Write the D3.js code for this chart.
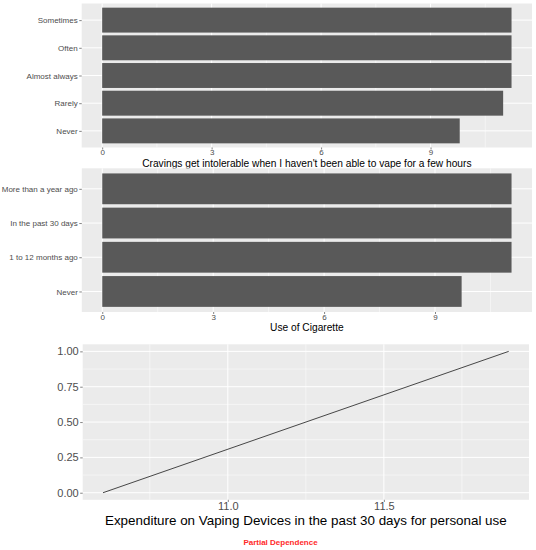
<!DOCTYPE html>
<html>
<head>
<meta charset="utf-8">
<script src="https://cdn.jsdelivr.net/npm/d3@7"></script>
<style>
  html, body { margin: 0; padding: 0; background: #ffffff; }
  svg { display: block; font-family: "Liberation Sans", Arial, Helvetica, sans-serif; }
</style>
</head>
<body>
<svg id="chart" width="536" height="550"></svg>
<script>
// ---- data ----
const cravingCategories = ["Sometimes", "Often", "Almost always", "Rarely", "Never"];
const cravingValues     = [11.22, 11.22, 11.22, 10.99, 9.80];
const cravingTitle      = "Cravings get intolerable when I haven't been able to vape for a few hours";

const cigaretteCategories = ["More than a year ago", "In the past 30 days", "1 to 12 months ago", "Never"];
const cigaretteValues     = [11.07, 11.07, 11.07, 9.72];
const cigaretteTitle      = "Use of Cigarette";

const barTicks = [0, 3, 6, 9];

const expenditureX      = [10.60, 11.90];
const partialDependence = [0.00, 1.00];
const pdXTicks = [11.0, 11.5];
const pdYTicks = [0.00, 0.25, 0.50, 0.75, 1.00];
const pdTitle  = "Expenditure on Vaping Devices in the past 30 days for personal use";
const caption  = "Partial Dependence";

// ---- drawing ----
const svg = d3.select("#chart");
const BG = "#ebebeb", BAR = "#595959", TXT = "#4d4d4d", TICK = "#333333";

function barPanel(cats, vals, title, box) {
  const g = svg.append("g");
  const maxV = d3.max(vals);
  const x = d3.scaleLinear().domain([-0.05 * maxV, maxV * 1.05]).range([box.x0, box.x1]);
  const y = d3.scalePoint().domain(cats).range([box.y0, box.y1]).padding(0.6);
  const bh = y.step() * 0.9;

  g.append("rect").attr("x", box.x0).attr("y", box.y0)
    .attr("width", box.x1 - box.x0).attr("height", box.y1 - box.y0).attr("fill", BG);

  const minor = barTicks.map(t => t + 1.5).filter(t => t < x.domain()[1]);
  g.selectAll(".mx").data(minor).join("line")
    .attr("x1", d => x(d)).attr("x2", d => x(d)).attr("y1", box.y0).attr("y2", box.y1)
    .attr("stroke", "#fff").attr("stroke-width", 0.5);
  g.selectAll(".Mx").data(barTicks).join("line")
    .attr("x1", d => x(d)).attr("x2", d => x(d)).attr("y1", box.y0).attr("y2", box.y1)
    .attr("stroke", "#fff").attr("stroke-width", 1);
  g.selectAll(".My").data(cats).join("line")
    .attr("x1", box.x0).attr("x2", box.x1).attr("y1", d => y(d)).attr("y2", d => y(d))
    .attr("stroke", "#fff").attr("stroke-width", 1);

  g.selectAll(".bar").data(cats).join("rect")
    .attr("x", x(0)).attr("y", d => y(d) - bh / 2)
    .attr("width", (d, i) => x(vals[i]) - x(0)).attr("height", bh)
    .attr("fill", BAR);

  const ya = d3.axisLeft(y).tickSize(2.5).tickPadding(1.5);
  const gy = g.append("g").attr("transform", `translate(${box.x0},0)`).call(ya);
  gy.select(".domain").remove();
  gy.selectAll(".tick line").attr("stroke", TICK).attr("stroke-width", 0.6);
  gy.selectAll(".tick text").attr("fill", TXT).style("font-size", "8px");

  const xa = d3.axisBottom(x).tickValues(barTicks).tickSize(2).tickFormat(d3.format("d"));
  const gx = g.append("g").attr("transform", `translate(0,${box.y1})`).call(xa);
  gx.select(".domain").remove();
  gx.selectAll(".tick line").attr("stroke", TICK).attr("stroke-width", 0.6);
  gx.selectAll(".tick text").attr("fill", TXT).style("font-size", "8px")
    .attr("y", box.tickLabelOffset).attr("dy", "0.35em");

  g.append("text").attr("x", (box.x0 + box.x1) / 2).attr("y", box.titleY)
    .attr("text-anchor", "middle").attr("dy", "0.35em")
    .style("font-size", "10.2px").attr("fill", "#000").text(title);
}

barPanel(cravingCategories, cravingValues, cravingTitle,
  { x0: 81.7, x1: 532, y0: 3.5, y1: 147.5, titleY: 163.4, tickLabelOffset: 5.0 });
barPanel(cigaretteCategories, cigaretteValues, cigaretteTitle,
  { x0: 81.8, x1: 532, y0: 168.3, y1: 312, titleY: 327.9, tickLabelOffset: 5.2 });

// ---- partial dependence panel ----
(function () {
  const box = { x0: 82.7, x1: 529, y0: 344.3, y1: 499.8 };
  const g = svg.append("g");
  const xr = d3.extent(expenditureX), pad = (xr[1] - xr[0]) * 0.05;
  const x = d3.scaleLinear().domain([xr[0] - pad, xr[1] + pad]).range([box.x0, box.x1]);
  const yr = d3.extent(partialDependence), ypad = (yr[1] - yr[0]) * 0.05;
  const y = d3.scaleLinear().domain([yr[0] - ypad, yr[1] + ypad]).range([box.y1, box.y0]);

  g.append("rect").attr("x", box.x0).attr("y", box.y0)
    .attr("width", box.x1 - box.x0).attr("height", box.y1 - box.y0).attr("fill", BG);

  const xStep = pdXTicks[1] - pdXTicks[0];
  const xMinor = [pdXTicks[0] - xStep / 2, pdXTicks[0] + xStep / 2, pdXTicks[1] + xStep / 2]
    .filter(v => v > x.domain()[0] && v < x.domain()[1]);
  const yStep = pdYTicks[1] - pdYTicks[0];
  const yMinor = pdYTicks.slice(0, -1).map(v => v + yStep / 2);

  g.selectAll(".mx").data(xMinor).join("line")
    .attr("x1", d => x(d)).attr("x2", d => x(d)).attr("y1", box.y0).attr("y2", box.y1)
    .attr("stroke", "#fff").attr("stroke-width", 0.5);
  g.selectAll(".my").data(yMinor).join("line")
    .attr("x1", box.x0).attr("x2", box.x1).attr("y1", d => y(d)).attr("y2", d => y(d))
    .attr("stroke", "#fff").attr("stroke-width", 0.5);
  g.selectAll(".Mx").data(pdXTicks).join("line")
    .attr("x1", d => x(d)).attr("x2", d => x(d)).attr("y1", box.y0).attr("y2", box.y1)
    .attr("stroke", "#fff").attr("stroke-width", 1);
  g.selectAll(".My").data(pdYTicks).join("line")
    .attr("x1", box.x0).attr("x2", box.x1).attr("y1", d => y(d)).attr("y2", d => y(d))
    .attr("stroke", "#fff").attr("stroke-width", 1);

  const line = d3.line().x(d => x(d[0])).y(d => y(d[1]));
  g.append("path").datum(expenditureX.map((v, i) => [v, partialDependence[i]]))
    .attr("d", line).attr("fill", "none").attr("stroke", "#333").attr("stroke-width", 0.9);

  const ya = d3.axisLeft(y).tickValues(pdYTicks).tickSize(2.5).tickPadding(1.5).tickFormat(d3.format(".2f"));
  const gy = g.append("g").attr("transform", `translate(${box.x0},0)`).call(ya);
  gy.select(".domain").remove();
  gy.selectAll(".tick line").attr("stroke", TICK).attr("stroke-width", 0.6);
  gy.selectAll(".tick text").attr("fill", TXT).style("font-size", "11px");

  const xa = d3.axisBottom(x).tickValues(pdXTicks).tickSize(2.2).tickFormat(d3.format(".1f"));
  const gx = g.append("g").attr("transform", `translate(0,${box.y1})`).call(xa);
  gx.select(".domain").remove();
  gx.selectAll(".tick line").attr("stroke", TICK).attr("stroke-width", 0.6);
  gx.selectAll(".tick text").attr("fill", TXT).style("font-size", "11px")
    .attr("y", 6.2).attr("dy", "0.35em");

  g.append("text").attr("x", (box.x0 + box.x1) / 2).attr("y", 520.4)
    .attr("text-anchor", "middle").attr("dy", "0.35em")
    .style("font-size", "13.4px").attr("fill", "#000").text(pdTitle);

  svg.append("text").attr("x", 280.5).attr("y", 542.3)
    .attr("text-anchor", "middle").attr("dy", "0.35em")
    .style("font-size", "8px").style("font-weight", "bold").attr("fill", "#ff2a2a").text(caption);
})();
</script>
</body>
</html>
